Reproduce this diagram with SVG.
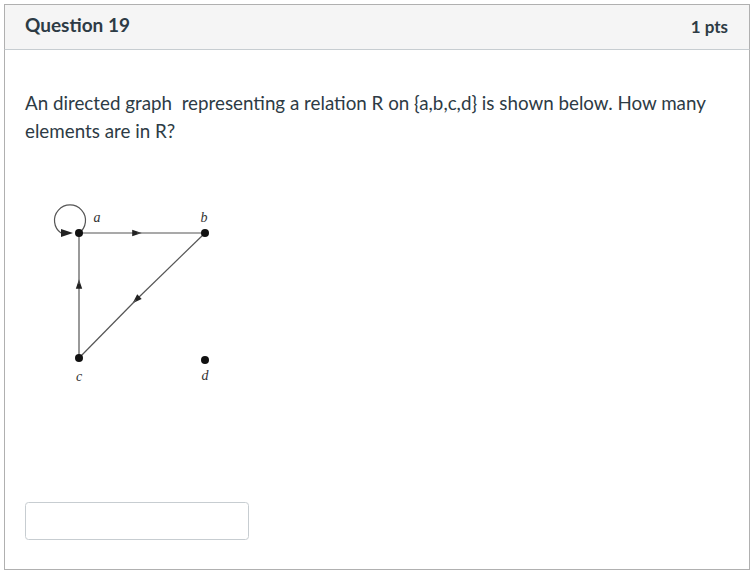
<svg xmlns="http://www.w3.org/2000/svg" width="756" height="575" viewBox="0 0 756 575">
<style>
.t{font-family:Lato,"Open Sans",sans-serif;fill:#2d3b45}
.lbl{font-family:"Liberation Serif",serif;font-style:italic;font-size:14px;fill:#333;text-anchor:middle}
.e{stroke:#555;stroke-width:1.2;fill:none}
.n{fill:#111}
</style>
<defs>
<marker id="ah" viewBox="0 0 12 10" refX="6" refY="5" markerWidth="12" markerHeight="8" orient="auto" markerUnits="userSpaceOnUse">
<path d="M0,1 L12,5 L0,9 Z" fill="#222"/>
</marker>
</defs>
<rect x="0" y="0" width="756" height="575" fill="#fff"/>
<rect x="4.5" y="4.5" width="745" height="565" fill="#fff" stroke="#b0b0b0"/>
<rect x="5" y="5" width="744" height="44" fill="#f5f5f5"/>
<line x1="4.5" y1="49.5" x2="749.5" y2="49.5" stroke="#c7cdd1"/>
<text class="t" x="25" y="32" font-size="19" font-weight="bold">Question 19</text>
<text class="t" x="728" y="33" font-size="17" font-weight="bold" text-anchor="end" fill="#555">1 pts</text>
<text class="t" x="25" y="110" font-size="18.8" xml:space="preserve">An directed graph  representing a relation R on {a,b,c,d} is shown below. How many</text>
<text class="t" x="25" y="138" font-size="18.8">elements are in R?</text>
<g id="connectors">
<path class="e" d="M79,233 L137,233" marker-end="url(#ah)"/>
<path class="e" d="M137,233 L205,233"/>
<path class="e" d="M205,233 L136,300" marker-end="url(#ah)"/>
<path class="e" d="M136,300 L79,358"/>
<path class="e" d="M79,358 L79,284" marker-end="url(#ah)"/>
<path class="e" d="M79,284 L79,233"/>
<path class="e" d="M79,233 A15.5,15.5 0 1 0 61,233" />
<path d="M61,229 L73,233 L61,237 Z" fill="#222"/>
</g>
<g id="node-a"><circle class="n" cx="79" cy="233" r="4"/><text class="lbl" x="97" y="222">a</text></g>
<g id="node-b"><circle class="n" cx="205" cy="233" r="4"/><text class="lbl" x="204" y="222">b</text></g>
<g id="node-c"><circle class="n" cx="79" cy="358" r="4"/><text class="lbl" x="79" y="381">c</text></g>
<g id="node-d"><circle class="n" cx="205" cy="360" r="4"/><text class="lbl" x="205" y="380">d</text></g>
<rect x="25.5" y="502.5" width="223" height="37" rx="3" fill="#fff" stroke="#c7cdd1"/>
</svg>
